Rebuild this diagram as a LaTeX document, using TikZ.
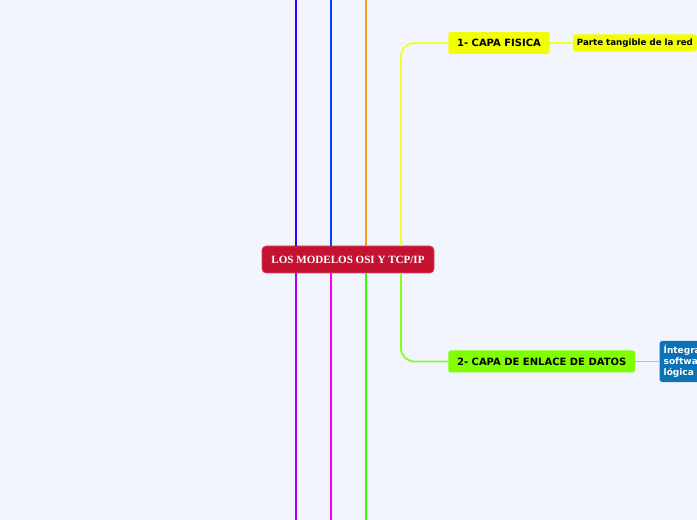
\documentclass[tikz,border=0pt]{standalone}
\usepackage{fontspec}
\setmainfont{DejaVu Sans}
\newfontfamily\titlefont{Liberation Serif}
\usetikzlibrary{positioning}

\definecolor{fondo}{HTML}{F2F5FD}
\definecolor{carmin}{HTML}{C41230}
\definecolor{amarillo}{HTML}{F2FF00}
\definecolor{lima}{HTML}{80FF00}
\definecolor{azulnodo}{HTML}{0B72B5}

\tikzset{
    central/.style={rectangle, rounded corners=3pt, fill=carmin, draw=carmin!75!white, text=white,
        minimum width=129pt, minimum height=20.25pt, font=\titlefont\bfseries\fontsize{8.3}{9}\selectfont},
    capa/.style={rectangle, rounded corners=2pt, inner xsep=6.6pt, minimum height=16.5pt,
        font=\bfseries\fontsize{7.5}{9}\selectfont},
    detalle/.style={rectangle, rounded corners=2pt, inner xsep=3pt, minimum height=11.25pt,
        font=\bfseries\fontsize{6.5}{7.5}\selectfont},
    rama/.style={line width=1.9pt},
    enlace/.style={line width=1.4pt, rounded corners=10pt},
    corto/.style={line width=1.1pt}
}

\begin{document}
\begin{tikzpicture}[x=0.75pt, y=-0.75pt]
    \useasboundingbox[fill=fondo] (0,0) rectangle (697,520);

    % ramas que salen del cuadro
    \coordinate (arribaA) at (296,0);
    \coordinate (arribaB) at (331,0);
    \coordinate (arribaC) at (366,0);
    \coordinate (abajoA) at (296,520);
    \coordinate (abajoB) at (331,520);
    \coordinate (abajoC) at (366,520);
    \coordinate (eje) at (401,260);

    \node [central] (modelos) at (348,259.5) {LOS MODELOS OSI Y TCP/IP};

    \node [capa, fill=amarillo, anchor=west] (fisica) at (448,43) {1- CAPA FISICA};
    \node [detalle, fill=amarillo, right=17pt of fisica] (tangible) {Parte tangible de la red};

    \node [capa, fill=lima, anchor=west] (datos) at (448,361.5) {2- CAPA DE ENLACE DE DATOS};
    \node [detalle, fill=azulnodo, text=white, align=left, minimum height=28.5pt, text width=60pt,
        font=\bfseries\fontsize{6.75}{8.25}\selectfont, right=18pt of datos] (integra) {Íntegra\\softwa\\lógica};

    \draw[rama, color={rgb,255:red,51;green,0;blue,255}] (modelos.north -| arribaA) -- (arribaA);
    \draw[rama, color={rgb,255:red,0;green,68;blue,255}] (modelos.north -| arribaB) -- (arribaB);
    \draw[rama, color={rgb,255:red,255;green,153;blue,34}] (modelos.north -| arribaC) -- (arribaC);
    \draw[rama, color={rgb,255:red,170;green,0;blue,255}] (modelos.south -| abajoA) -- (abajoA);
    \draw[rama, color={rgb,255:red,255;green,0;blue,238}] (modelos.south -| abajoB) -- (abajoB);
    \draw[rama, color={rgb,255:red,51;green,255;blue,0}] (modelos.south -| abajoC) -- (abajoC);

    \draw[enlace, color={rgb,255:red,240;green,255;blue,48}] (modelos.north -| eje) |- (fisica.west);
    \draw[enlace, color={rgb,255:red,136;green,255;blue,34}] (modelos.south -| eje) |- (datos.west);

    \draw[corto, color={rgb,255:red,240;green,255;blue,48}] (fisica) -- (tangible);
    \draw[corto, color={rgb,255:red,136;green,255;blue,34}] (datos) -- (integra);
\end{tikzpicture}
\end{document}
